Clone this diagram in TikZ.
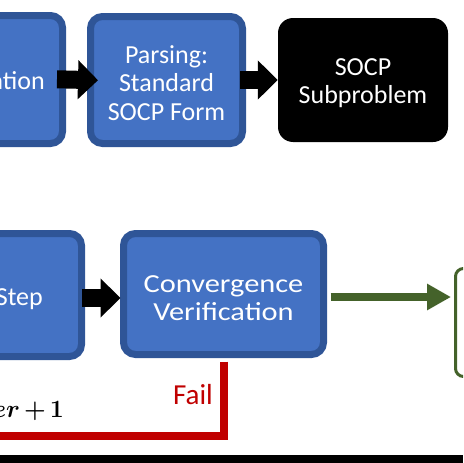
\documentclass[tikz,border=0pt]{standalone}
\usepackage{fontspec}
\setmainfont{Carlito}
\usetikzlibrary{arrows.meta}
\definecolor{boxblue}{HTML}{4472C4}
\definecolor{boxborder}{HTML}{2F5597}
\definecolor{okgreen}{HTML}{44622A}
\definecolor{failred}{HTML}{C00000}
\begin{document}
\begin{tikzpicture}[x=1pt,y=-1pt,
  boxfont/.style={font=\fontsize{26}{28.5}\selectfont},
  bluebox/.style={draw=boxborder, fill=boxblue, line width=7pt, rounded corners=12pt, inner sep=0pt},
  blackbox/.style={fill=black, rounded corners=15pt, inner sep=0pt},
  boxtext/.style={text=white, boxfont, inner sep=0pt, align=center},
  blockarrow/.style={line width=18pt, -{Triangle[length=20pt,width=38pt]}},
  yesarrow/.style={draw=okgreen, line width=8pt, -{Triangle[length=24pt,width=25pt]}, okgreen},
  failline/.style={draw=failred, line width=8pt},
  mathlabel/.style={font=\fontsize{23}{28}\selectfont\boldmath, inner sep=0pt},
]
\useasboundingbox (0,0) rectangle (463,463);
\clip (0,0) rectangle (463,463);
% top row
\node[bluebox, minimum width=150pt, minimum height=128pt] (b1) at (-12.5,79.5) {};
\node[boxtext, anchor=east] (t1) at (45,81) {ation};
\node[bluebox, minimum width=152pt, minimum height=127pt] (b2) at (166.5,80) {};
\node[boxtext] (t2) at ([yshift=-3pt]b2.center) {Parsing:\\Standard\\SOCP Form};
\node[blackbox, minimum width=170pt, minimum height=124pt] (b3) at (363,80) {};
\node[boxtext] (t3) at ([yshift=-3pt]b3.center) {SOCP\\Subproblem};
% bottom row
\node[bluebox, minimum width=150pt, minimum height=123pt] (b4) at (6.5,295) {};
\node[boxtext, anchor=east] (t4) at (43,299) {Step};
\node[bluebox, minimum width=200pt, minimum height=121pt] (b5) at (223.5,294) {};
\node[boxtext] (t5) at ([yshift=-4pt]b5.center) {\scalebox{1.17}[1]{Convergence}\\\scalebox{1.17}[1]{Verification}};
\node[draw=okgreen, line width=3pt, fill=white, rounded corners=8pt, minimum width=150pt, minimum height=108pt, inner sep=0pt] (b6) at (530.5,322.5) {};
% connectors
\draw[blockarrow, shorten <=-9pt, shorten >=-11pt] (b1.east) -- (b2.west);
\draw[blockarrow, shorten <=-6pt] (b2.east) -- (b3.west);
\draw[blockarrow, shorten <=-3pt, shorten >=-0.5pt] ([yshift=-3pt]b4.east) -- ([yshift=-4pt]b5.west);
\draw[yesarrow, shorten <=3.5pt, shorten >=3pt] ([yshift=-3pt]b5.east) -- ([yshift=25.5pt]b6.west);
\coordinate (rc) at (223.5,436);
\coordinate (rend) at (-10,436);
\draw[failline, shorten <=3.5pt] (b5.south) -- (rc) -- (rend);
\node[anchor=east, text=failred, font=\fontsize{29}{30}\selectfont, inner sep=0pt] (fail) at (213,395) {Fail};
\node[mathlabel, anchor=east] (iterlabel) at (64,411) {\medmuskip=2.5mu$er+1$};
% bottom black band
\fill[black] (0,455) rectangle (463,463);
\end{tikzpicture}
\end{document}
